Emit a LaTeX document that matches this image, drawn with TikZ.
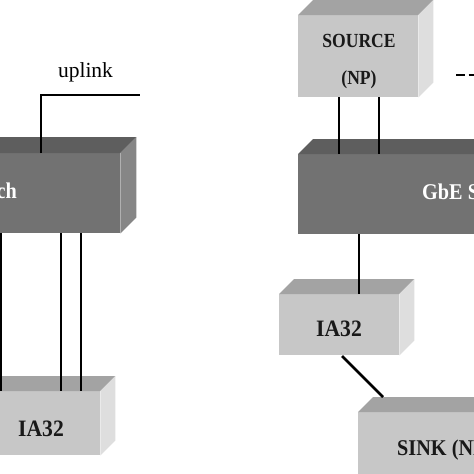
\documentclass[tikz,border=0pt]{standalone}
\usepackage{fontspec}
\setmainfont{Liberation Serif}
\definecolor{dfront}{HTML}{727272}
\definecolor{dtop}{HTML}{5E5E5E}
\definecolor{dside}{HTML}{868686}
\definecolor{lfront}{HTML}{C7C7C7}
\definecolor{ltop}{HTML}{A3A3A3}
\definecolor{lside}{HTML}{DEDEDE}
\tikzset{
  dbox/.style={draw=none,fill=dfront,inner sep=0pt,anchor=north west},
  lbox/.style={draw=none,fill=lfront,inner sep=0pt,anchor=north west},
  wire/.style={line width=2.5pt,black},
  dlabel/.style={inner sep=0pt,text=white,font=\bfseries\fontsize{22.5}{22.5}\selectfont},
  llabel/.style={inner sep=0pt,text=black!90,font=\bfseries\fontsize{23.5}{23.5}\selectfont},
  slabel/.style={inner sep=0pt,text=black!90,font=\bfseries\fontsize{20}{20}\selectfont},
}
\newcommand{\mybox}[4]{% name, topcolor, sidecolor, depth
  \fill[#2] (#1.north west) -- ++(#4,-#4) -- ([shift={(#4,-#4)}]#1.north east) -- (#1.north east) -- cycle;
  \fill[#3] (#1.north east) -- ++(#4,-#4) -- ([shift={(#4,-#4)}]#1.south east) -- (#1.south east) -- cycle;
}
\begin{document}
\begin{tikzpicture}[x=1pt,y=-1pt]
\path[use as bounding box] (0,0) rectangle (474,474);
\clip (0,0) rectangle (474,474);
% boxes
\node[dbox,minimum width=300pt,minimum height=80pt] (lsw) at (-180,153) {};
\mybox{lsw}{dtop}{dside}{16}
\node[dbox,minimum width=350pt,minimum height=80pt] (rsw) at (298,154) {};
\mybox{rsw}{dtop}{dside}{15}
\node[lbox,minimum width=120pt,minimum height=82pt] (src) at (298,15) {};
\mybox{src}{ltop}{lside}{15}
\node[lbox,minimum width=120pt,minimum height=64pt] (lia) at (-20,391) {};
\mybox{lia}{ltop}{lside}{15}
\node[lbox,minimum width=120pt,minimum height=61pt] (ria) at (279,294) {};
\mybox{ria}{ltop}{lside}{15}
\node[lbox,minimum width=300pt,minimum height=90pt] (sink) at (358,412) {};
\mybox{sink}{ltop}{lside}{15}
% labels
\node[dlabel,anchor=base east] (lswt) at (17,198) {\scalebox{0.9}[1]{GbE Switch}};
\node[dlabel,anchor=base west] (rswt) at (422,199) {\scalebox{0.9}[1]{GbE Switch}};
\node[slabel,anchor=base] (srct) at (359,47) {\scalebox{0.88}[1]{SOURCE}};
\node[slabel,anchor=base] (npt) at (359,84) {\scalebox{0.88}[1]{(NP)}};
\node[llabel,anchor=base] (liat) at (41,436) {\scalebox{0.92}[1]{IA32}};
\node[llabel,anchor=base] (riat) at (339,336) {\scalebox{0.92}[1]{IA32}};
\node[dlabel,text=black!90,anchor=base west] (sinkt) at (397,455) {\scalebox{0.9}[1]{SINK (NP)}};
\node[inner sep=0pt,anchor=base,font=\fontsize{21.5}{21.5}\selectfont] (upl) at (85.5,77) {uplink};
% connectors
\coordinate (uplend) at (140,95);
\draw[wire] (lsw.north -| 41,0) |- (uplend);
\draw[wire] (lsw.south -| 1,0) -- (lia.north -| 1,0);
\draw[wire] (lsw.south -| 61,0) -- (lia.north -| 61,0);
\draw[wire] (lsw.south -| 81,0) -- (lia.north -| 81,0);
\draw[wire] (src.south -| 339,0) -- (rsw.north -| 339,0);
\draw[wire] (src.south -| 379,0) -- (rsw.north -| 379,0);
\draw[wire] (rsw.south -| 359,0) -- (ria.north -| 359,0);
\draw[wire] (342,356) coordinate (iabot) -- (383,397) coordinate (sinktop);
\coordinate (dashA) at (456,75);
\coordinate (dashB) at (490,75);
\draw[line width=2.5pt,dash pattern=on 9pt off 3.5pt] (dashA) -- (dashB);
\end{tikzpicture}
\end{document}
